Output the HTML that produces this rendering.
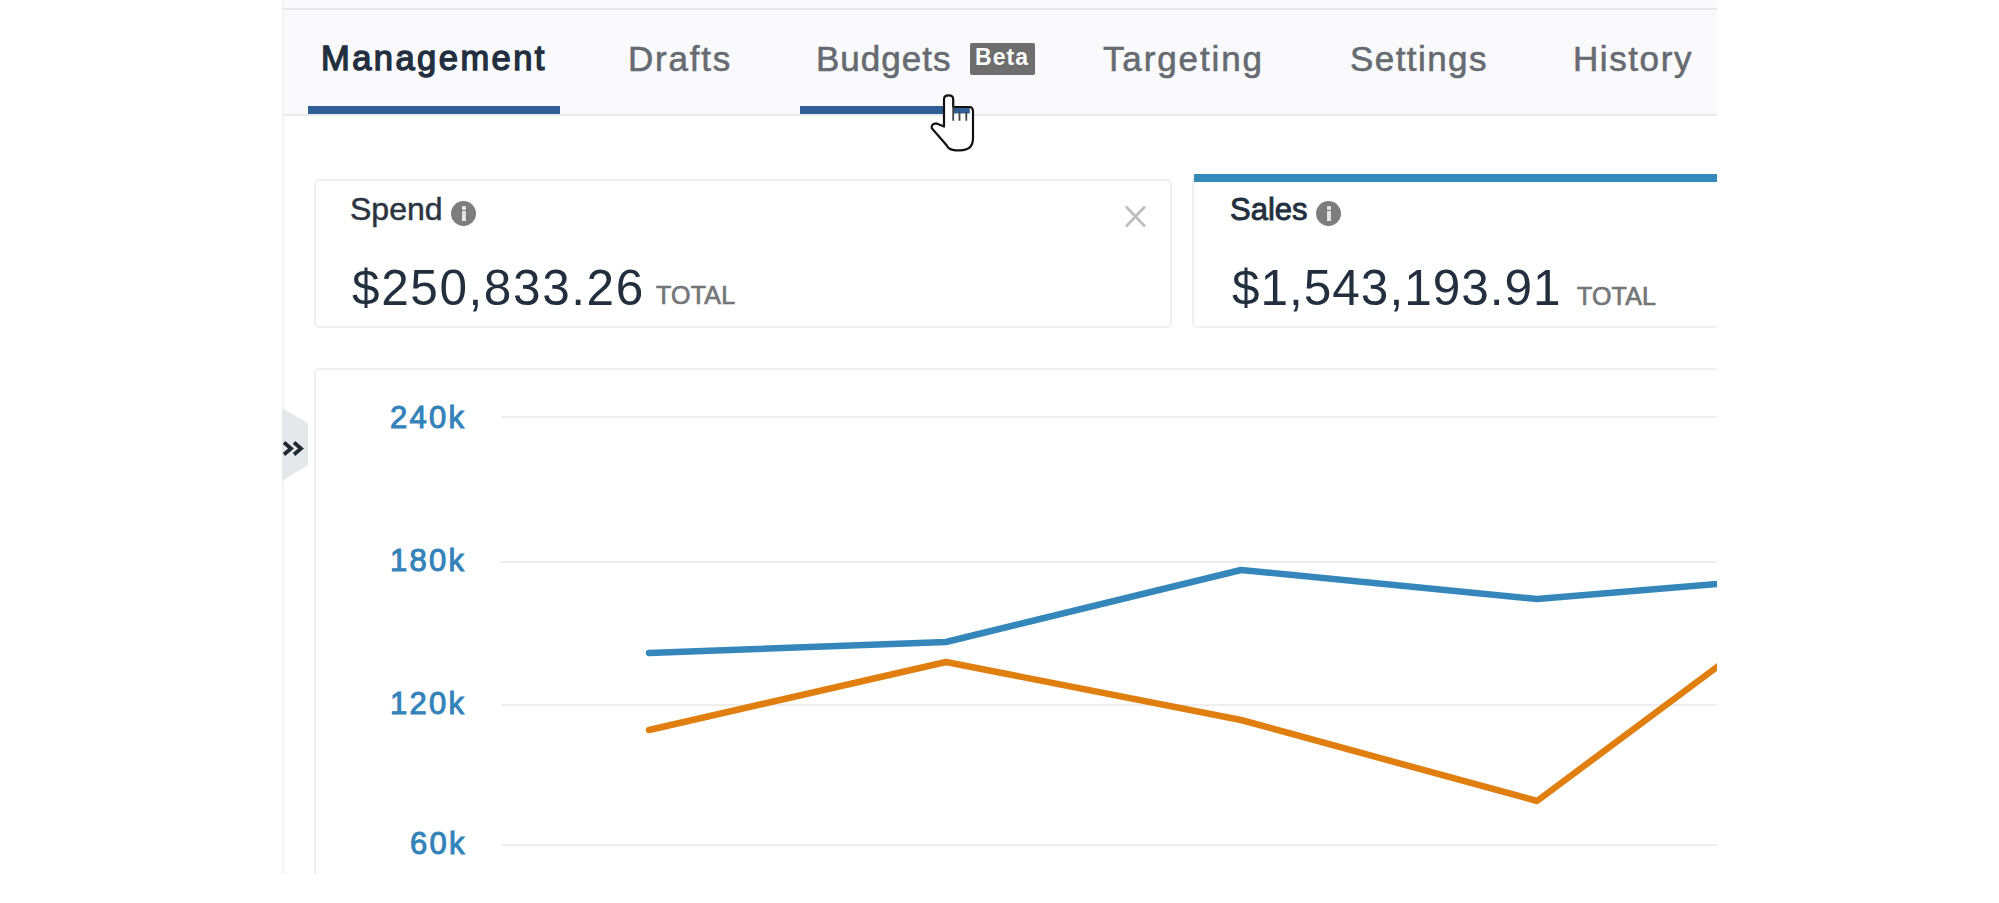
<!DOCTYPE html>
<html><head><meta charset="utf-8">
<style>
html,body{margin:0;padding:0;background:#fff;}
body{width:1999px;height:903px;position:relative;overflow:hidden;font-family:"Liberation Sans",sans-serif;}
.a{position:absolute;}
.t{position:absolute;line-height:1;white-space:nowrap;}
#clip{left:0;top:0;width:1717px;height:874px;overflow:hidden;}
#panel{left:282px;top:0;width:1435px;height:874px;background:#fff;}
#pline{left:282px;top:0;width:2px;height:874px;background:#f4f4f6;}
#tabbar{left:282px;top:0;width:1435px;height:115px;background:#fafafc;}
#topline{left:282px;top:8px;width:1435px;height:2px;background:#e7e7ea;}
#botline{left:282px;top:114px;width:1435px;height:2px;background:#ebebed;}
.tab{font-size:35px;color:#666a71;-webkit-text-stroke:0.6px #666a71;}
.ul{height:8px;background:#2f5f95;top:106px;}
.card{border:2px solid #f0f0f2;border-radius:5px;background:#fff;box-sizing:border-box;}
.info{width:25px;height:25px;border-radius:50%;background:#7d7d7d;}
.info:before{content:"";position:absolute;left:10.5px;top:5px;width:4px;height:4px;background:#e4e4e4;border-radius:1px;}
.info:after{content:"";position:absolute;left:10.5px;top:10px;width:4px;height:10px;background:#e4e4e4;}
.ylab{font-size:31px;color:#3382ba;-webkit-text-stroke:1px #3382ba;letter-spacing:2.3px;}
.grid{height:2px;background:#eeeeef;left:501px;width:1216px;}
.big{font-size:49.5px;color:#232f3e;}
.tot{font-size:25px;color:#747678;-webkit-text-stroke:0.7px #747678;}
</style></head>
<body>
<div id="clip" class="a">
  <div id="panel" class="a"></div>
  <div id="tabbar" class="a"></div>
  <div id="pline" class="a"></div>
  <div id="topline" class="a"></div>
  <div id="botline" class="a"></div>

  <div class="t" style="left:321px;top:41px;font-size:34.5px;color:#232f3e;-webkit-text-stroke:1.4px #232f3e;letter-spacing:2.45px;">Management</div>
  <div class="t tab" style="left:628px;top:41px;letter-spacing:1.8px;">Drafts</div>
  <div class="t tab" style="left:816px;top:41px;letter-spacing:1px;">Budgets</div>
  <div class="a" style="left:970px;top:43px;width:65px;height:32px;background:#6e6e6e;border-radius:2px;"></div>
  <div class="t" style="left:975px;top:46px;font-size:23px;font-weight:bold;color:#fff;letter-spacing:1.1px;">Beta</div>
  <div class="t tab" style="left:1103px;top:41px;letter-spacing:1.87px;">Targeting</div>
  <div class="t tab" style="left:1350px;top:41px;letter-spacing:1.43px;">Settings</div>
  <div class="t tab" style="left:1573px;top:41px;letter-spacing:1.58px;">History</div>
  <div class="a ul" style="left:308px;width:252px;"></div>
  <div class="a ul" style="left:800px;width:170px;"></div>

  <!-- Spend card -->
  <div class="a card" style="left:314px;top:179px;width:858px;height:149px;"></div>
  <div class="t" style="left:350px;top:193px;font-size:32px;color:#2b3440;-webkit-text-stroke:0.5px #2b3440;">Spend</div>
  <div class="a info" style="left:451px;top:201px;"></div>
  <div class="t big" style="left:352px;top:263px;letter-spacing:1.6px;">$250,833.26</div>
  <div class="t tot" style="left:656px;top:283px;letter-spacing:0.2px;">TOTAL</div>
  <svg class="a" style="left:1124px;top:205px" width="24" height="24" viewBox="0 0 24 24"><path d="M2 1.5L21 21.5M21 1.5L2 21.5" stroke="#bdbdbd" stroke-width="2.6" fill="none"/></svg>

  <!-- Sales card -->
  <div class="a card" style="left:1192px;top:178px;width:900px;height:150px;border-radius:0 0 5px 5px;"></div>
  <div class="a" style="left:1194px;top:174px;width:600px;height:8px;background:#3589bb;"></div>
  <div class="t" style="left:1230px;top:194px;font-size:31px;color:#232f3e;-webkit-text-stroke:0.9px #232f3e;letter-spacing:0px;">Sales</div>
  <div class="a info" style="left:1316px;top:201px;"></div>
  <div class="t big" style="left:1232px;top:263px;letter-spacing:1.0px;">$1,543,193.91</div>
  <div class="t tot" style="left:1577px;top:284px;letter-spacing:0.15px;">TOTAL</div>

  <!-- chart card -->
  <div class="a card" style="left:314px;top:368px;width:1500px;height:700px;"></div>
  <div class="a grid" style="top:416px;"></div>
  <div class="a grid" style="top:561px;"></div>
  <div class="a grid" style="top:704px;"></div>
  <div class="a grid" style="top:844px;"></div>
  <div class="t ylab" style="left:390px;top:402px;">240k</div>
  <div class="t ylab" style="left:390px;top:545px;">180k</div>
  <div class="t ylab" style="left:390px;top:688px;">120k</div>
  <div class="t ylab" style="left:410px;top:828px;">60k</div>

  <svg class="a" style="left:0;top:0" width="1717" height="874">
    <polyline points="649,653 946,642 1241,570 1537,599 1717,584 1760,578" fill="none" stroke="#3587bb" stroke-width="6.5" stroke-linejoin="round" stroke-linecap="round"/>
    <polyline points="649,730 946,662 1241,720 1537,801 1717,667 1760,635" fill="none" stroke="#e07f10" stroke-width="6.5" stroke-linejoin="round" stroke-linecap="round"/>
  </svg>

  <!-- sidebar toggle -->
  <svg class="a" style="left:282px;top:408px" width="28" height="75" viewBox="0 0 28 75">
    <polygon points="0,0 26,15 26,57 0,73" fill="#e6e7eb"/>
    <path d="M2 34.5L9 40.5L2 46.5M12 34.5L19 40.5L12 46.5" stroke="#1f2833" stroke-width="3.8" fill="none"/>
  </svg>

  <!-- hand cursor -->
  <svg class="a" style="left:920px;top:85px" width="70" height="75" viewBox="0 0 70 75">
    <defs><path id="hand" d="M24 41.5 L24 14 Q24 10.3 28.6 10.3 Q33.2 10.3 33.2 14 L33.2 22 L49.3 22 Q53 22 53 26.6 L53 53.2 Q53 65.3 40 65.3 L35.7 65.3 Q29 65.3 26.6 60.3 L11.8 43.2 Q10.8 38.6 16.6 38.4 Z"/></defs>
    <use href="#hand" fill="#fff"/>
    <rect x="33.2" y="21.5" width="16.6" height="7" fill="#2f5f95"/>
    <use href="#hand" fill="none" stroke="#111" stroke-width="2.2" stroke-linejoin="round"/>
    <path d="M33.2 22 L33.2 35.7 M39.5 27 L39.5 35.7 M46.3 27 L46.3 35.7" stroke="#444" stroke-width="1.8"/>
  </svg>
</div>
</body></html>
